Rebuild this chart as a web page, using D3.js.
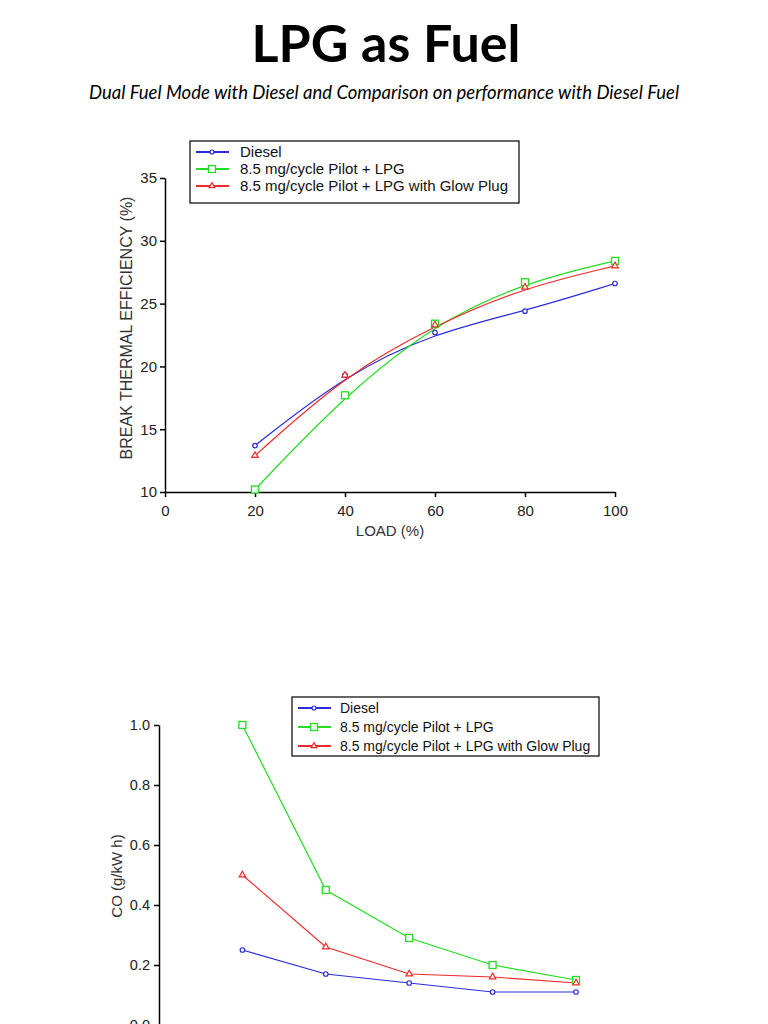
<!DOCTYPE html>
<html lang="en">
<head>
<meta charset="utf-8">
<title>LPG as Fuel</title>
<script src="https://cdn.jsdelivr.net/npm/d3@7"></script>
<style>
  body { margin: 0; background: #fff; }
  svg { display: block; }
  .title { font: bold 52px 'Lato', 'Open Sans', sans-serif; fill: #000; }
  .subtitle { font: italic 18.5px 'Lato', 'Open Sans', sans-serif; fill: #000; }
  .axis text { font: 15px 'Liberation Sans', Arial, sans-serif; fill: #222; }
  .axis.co text { font-size: 14.5px; }
  .axis path, .axis line { stroke: #000; stroke-width: 1.5px; }
  .lab { font: 15px 'Liberation Sans', Arial, sans-serif; fill: #333; }
  .leg text { font: 15px 'Liberation Sans', Arial, sans-serif; fill: #111; }
</style>
</head>
<body>
<div id="chart"></div>
<script>
// data
const loads = [20, 40, 60, 80, 100];
const seriesNames = ["Diesel", "8.5 mg/cycle Pilot + LPG", "8.5 mg/cycle Pilot + LPG with Glow Plug"];
const seriesColors = ["#2b2bdb", "#22dd22", "#ee2a2a"];
const bteDiesel = [13.7, 19.3, 22.7, 24.4, 26.6];
const bteLpg = [10.2, 17.7, 23.4, 26.7, 28.4];
const bteGlow = [12.9, 19.3, 23.3, 26.3, 28.0];
const coDiesel = [0.25, 0.17, 0.14, 0.11, 0.11];
const coLpg = [1.0, 0.45, 0.29, 0.20, 0.15];
const coGlow = [0.50, 0.26, 0.17, 0.16, 0.14];
const xTicks = [0, 20, 40, 60, 80, 100];
const bteTicks = [10, 15, 20, 25, 30, 35];
const coTicks = [0, 0.2, 0.4, 0.6, 0.8, 1.0];

const W = 768, H = 1024;
const svg = d3.select("#chart").append("svg").attr("width", W).attr("height", H);

svg.append("text").attr("class", "title").attr("x", 386).attr("y", 62)
  .attr("text-anchor", "middle").text("LPG as Fuel");
svg.append("text").attr("class", "subtitle").attr("x", 384).attr("y", 99)
  .attr("text-anchor", "middle")
  .text("Dual Fuel Mode with Diesel and Comparison on performance with Diesel Fuel");

// marker drawing
function drawMarker(g, type, x, y, color, s) {
  if (type === 0) {
    g.append("circle").attr("cx", x).attr("cy", y).attr("r", s * 0.5)
      .attr("fill", "#fff").attr("stroke", color).attr("stroke-width", 1.2);
  } else if (type === 1) {
    g.append("rect").attr("x", x - s * 0.7).attr("y", y - s * 0.7)
      .attr("width", s * 1.4).attr("height", s * 1.4)
      .attr("fill", "#fff").attr("stroke", color).attr("stroke-width", 1.3);
  } else {
    g.append("path").attr("d", d3.symbol(d3.symbolTriangle, s * s * 0.9)())
      .attr("transform", `translate(${x},${y})`)
      .attr("fill", "#fff").attr("stroke", color).attr("stroke-width", 1.2);
  }
}

function legend(x0, y0, w, h, step, fs, tx) {
  const g = svg.append("g").attr("class", "leg");
  g.append("rect").attr("x", x0).attr("y", y0).attr("width", w).attr("height", h)
    .attr("fill", "#fff").attr("stroke", "#000").attr("stroke-width", 1.2);
  seriesNames.forEach((n, i) => {
    const y = y0 + 11 + i * step;
    g.append("line").attr("x1", x0 + 6).attr("x2", x0 + 39).attr("y1", y).attr("y2", y)
      .attr("stroke", seriesColors[i]).attr("stroke-width", 2);
    drawMarker(g, i, x0 + 22, y, seriesColors[i], i === 1 ? 5 : 4);
    g.append("text").attr("x", x0 + tx).attr("y", y + 5).style("font-size", fs + "px").text(n);
  });
}

// ---- top chart: break thermal efficiency
const x1 = d3.scaleLinear().domain([0, 100]).range([165, 615]);
const y1 = d3.scaleLinear().domain([10, 35]).range([492, 178]);

svg.append("g").attr("class", "axis").attr("transform", "translate(0,492)")
  .call(d3.axisBottom(x1).tickValues(xTicks).tickSizeInner(5).tickSizeOuter(0).tickPadding(8));
svg.append("g").attr("class", "axis").attr("transform", "translate(165,0)")
  .call(d3.axisLeft(y1).tickValues(bteTicks).tickSizeInner(5).tickSizeOuter(0).tickPadding(3));

svg.append("text").attr("class", "lab").attr("x", 390).attr("y", 536)
  .attr("text-anchor", "middle").text("LOAD (%)");
svg.append("text").attr("class", "lab").attr("transform", "translate(132,328) rotate(-90)")
  .attr("text-anchor", "middle").style("font-size", "16px").text("BREAK THERMAL EFFICIENCY (%)");

const bteSeries = [bteDiesel, bteLpg, bteGlow];
const smooth = d3.line().x(d => x1(d[0])).y(d => y1(d[1])).curve(d3.curveBasis);
bteSeries.forEach((vals, i) => {
  const pts = loads.map((l, j) => [l, vals[j]]);
  svg.append("path").attr("d", smooth(pts)).attr("fill", "none")
    .attr("stroke", seriesColors[i]).attr("stroke-width", 1.2);
});
const mk1 = svg.append("g");
bteSeries.forEach((vals, i) => {
  loads.forEach((l, j) => drawMarker(mk1, i, x1(l), y1(vals[j]), seriesColors[i], i === 1 ? 5 : 4.5));
});
legend(190, 141, 329, 62, 17, 15, 50);

// ---- bottom chart: CO
const x2 = d3.scaleLinear().domain([0, 100]).range([159, 576]);
const y2 = d3.scaleLinear().domain([0, 1.0]).range([1025, 725]);

svg.append("g").attr("class", "axis co").attr("transform", "translate(159,0)")
  .call(d3.axisLeft(y2).tickValues(coTicks).tickFormat(d3.format(".1f"))
    .tickSizeInner(5).tickSizeOuter(0).tickPadding(4));
svg.append("text").attr("class", "lab").attr("transform", "translate(122,876) rotate(-90)")
  .attr("text-anchor", "middle").text("CO (g/kW h)");

const coSeries = [coDiesel, coLpg, coGlow];
const straight = d3.line().x(d => x2(d[0])).y(d => y2(d[1]));
coSeries.forEach((vals, i) => {
  const pts = loads.map((l, j) => [l, vals[j]]);
  svg.append("path").attr("d", straight(pts)).attr("fill", "none")
    .attr("stroke", seriesColors[i]).attr("stroke-width", 1.2);
});
const mk2 = svg.append("g");
coSeries.forEach((vals, i) => {
  loads.forEach((l, j) => drawMarker(mk2, i, x2(l), y2(vals[j]), seriesColors[i], i === 1 ? 5 : 4.5));
});
legend(292, 697, 307, 59, 19, 14, 48);
</script>
</body>
</html>
